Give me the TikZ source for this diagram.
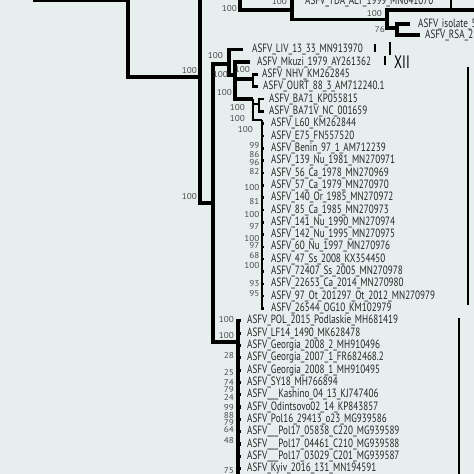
\documentclass[tikz,border=0pt]{standalone}
\usepackage{fontspec}
\setmainfont{PT Sans}
\newfontfamily\leaffont[FakeStretch=0.76]{PT Sans}
\newfontfamily\bootfont[FakeStretch=1.08]{PT Sans}
\newfontfamily\cladefont[FakeStretch=0.72]{PT Sans}
\definecolor{sfondo}{RGB}{231,238,238}
\tikzset{
  ramo/.style={line width=3.2pt},
  rametto/.style={line width=2.6pt},
  foglia/.style={anchor=base west, inner sep=0pt, text=black!85, font=\leaffont\fontsize{12}{12}\selectfont},
  supporto/.style={anchor=east, inner sep=0pt, text=black!70, font=\bootfont\fontsize{8.5}{8.5}\selectfont},
  barra/.style={line width=2.4pt},
}
\begin{document}
\begin{tikzpicture}[x=1pt, y=-1pt]
\useasboundingbox (0,0) rectangle (474,474);
\fill[sfondo] (0,0) rectangle (474,474);
\clip (0,0) rectangle (474,474);

% Nodi interni (punto di ingresso del ramo)
\coordinate (p0) at (35,-60);
\coordinate (n1) at (128,0.5);
\coordinate (n1su) at (150,-60);
\coordinate (n2) at (200,77);
\coordinate (n2su) at (215,-60);
\coordinate (n3) at (213,203);
\coordinate (n4) at (229,64);
\coordinate (n5) at (235,75);
\coordinate (n6) at (253,79);
\coordinate (n7) at (253,99);
\coordinate (n8) at (259,104);
\coordinate (n9) at (262,120);
\coordinate (n10) at (238,342);
\coordinate (m1) at (240,-40);
\coordinate (m2) at (292,10);
\coordinate (m2su) at (300,-40);
\coordinate (m3) at (387,19.5);
\coordinate (m3dx) at (480,10);
\coordinate (m4) at (397,28);

% Foglie in alto a destra
\node[foglia] (tda) at (305,4) {ASFV\_TDA\_ALT\_1999\_MN641070};
\node[foglia] (iso) at (418,27) {ASFV\_isolate\_5};
\node[foglia] (rsa) at (425,38) {ASFV\_RSA\_2};

% Foglie del genotipo I
\node[foglia] (liv) at (252,52.8) {ASFV\_LIV\_13\_33\_MN913970};
\node[foglia] (mku) at (257,65.1) {ASFV\_Mkuzi\_1979\_AY261362};
\node[foglia] (nhv) at (262,77.4) {ASFV\_NHV\_KM262845};
\node[foglia] (ourt) at (263,89.8) {ASFV\_OURT\_88\_3\_AM712240.1};
\node[foglia] (ba71) at (269,102.1) {ASFV\_BA71\_KP055815};
\node[foglia] (ba71v) at (269,114.4) {ASFV\_BA71V\_NC\_001659};
\node[foglia] (l60) at (271,126.7) {ASFV\_L60\_KM262844};
\node[foglia] (e75) at (271,139.0) {ASFV\_E75\_FN557520};
\node[foglia] (ben) at (271,151.4) {ASFV\_Benin\_97\_1\_AM712239};
\node[foglia] (nu139) at (271,163.7) {ASFV\_139\_Nu\_1981\_MN270971};
\node[foglia] (ca56) at (271,176.0) {ASFV\_56\_Ca\_1978\_MN270969};
\node[foglia] (ca57) at (271,188.3) {ASFV\_57\_Ca\_1979\_MN270970};
\node[foglia] (or140) at (271,200.6) {ASFV\_140\_Or\_1985\_MN270972};
\node[foglia] (ca85) at (271,213.0) {ASFV\_85\_Ca\_1985\_MN270973};
\node[foglia] (nu141) at (271,225.3) {ASFV\_141\_Nu\_1990\_MN270974};
\node[foglia] (nu142) at (271,237.6) {ASFV\_142\_Nu\_1995\_MN270975};
\node[foglia] (nu60) at (271,249.9) {ASFV\_60\_Nu\_1997\_MN270976};
\node[foglia] (ss47) at (271,262.2) {ASFV\_47\_Ss\_2008\_KX354450};
\node[foglia] (ss72) at (271,274.6) {ASFV\_72407\_Ss\_2005\_MN270978};
\node[foglia] (ca22) at (271,286.9) {ASFV\_22653\_Ca\_2014\_MN270980};
\node[foglia] (ot97) at (271,299.2) {ASFV\_97\_Ot\_201297\_Ot\_2012\_MN270979};
\node[foglia] (og10) at (271,311.5) {ASFV\_26544\_OG10\_KM102979};

% Foglie del genotipo II
\node[foglia] (pol15) at (247,323.8) {ASFV\_POL\_2015\_Podlaskie\_MH681419};
\node[foglia] (lf14) at (247,336.2) {ASFV\_LF14\_1490\_MK628478};
\node[foglia] (geo82) at (247,348.5) {ASFV\_Georgia\_2008\_2\_MH910496};
\node[foglia] (geo71) at (247,360.8) {ASFV\_Georgia\_2007\_1\_FR682468.2};
\node[foglia] (geo81) at (247,373.1) {ASFV\_Georgia\_2008\_1\_MH910495};
\node[foglia] (sy18) at (247,385.4) {ASFV\_SY18\_MH766894};
\node[foglia] (kas) at (247,397.8) {ASFV\_\_\_Kashino\_04\_13\_KJ747406};
\node[foglia] (odi) at (247,410.1) {ASFV\_Odintsovo02\_14\_KP843857};
\node[foglia] (pol16) at (247,422.4) {ASFV\_Pol16\_29413\_o23\_MG939586};
\node[foglia] (p05838) at (247,434.7) {ASFV\_\_\_Pol17\_05838\_C220\_MG939589};
\node[foglia] (p04461) at (247,447.0) {ASFV\_\_\_Pol17\_04461\_C210\_MG939588};
\node[foglia] (p03029) at (247,459.4) {ASFV\_\_\_Pol17\_03029\_C201\_MG939587};
\node[foglia] (kyiv) at (247,471.7) {ASFV\_Kyiv\_2016\_131\_MN194591};

% Rami principali
\draw[ramo] (p0) |- (n1);
\draw[ramo] (n1) |- (n1su);
\draw[ramo] (n1) |- (n2);
\draw[ramo] (n2) |- (n2su);
\draw[ramo] (n2) |- (n3);
\draw[ramo] (n3) |- (n4);
\draw[ramo] (n3) |- (n10);
\draw[ramo] (m1) |- (m2);
\draw[ramo] (m2) |- (m2su);
\draw[ramo] (m2) |- (m3);
\draw[ramo] (m3) |- (m3dx);
\draw[ramo] (m3) |- (m4);
\draw[ramo, shorten >=8pt] (m4) |- (iso.west);
\draw[ramo, shorten >=5pt] (m4) |- (rsa.west);

% Clade del genotipo I
\draw[ramo, shorten >=9pt] (n4) |- (liv.west);
\draw[ramo] (n4) |- (n5);
\draw[ramo, shorten >=7pt] (n5) |- (mku.west);
\draw[ramo] (n5) |- (n6);
\draw[ramo] (n5) |- (n7);
\draw[rametto, shorten >=4pt] (n6) |- (nhv.west);
\draw[rametto, shorten >=5pt] (n6) |- (ourt.west);
\draw[rametto] (n7) |- (n8);
\draw[rametto] (n7) |- (n9);
\draw[rametto, shorten >=5pt] (n8) |- (ba71.west);
\draw[rametto, shorten >=5pt] (n8) |- (ba71v.west);
\foreach \f in {l60,e75,ben,nu139,ca56,ca57,or140,ca85,nu141,nu142,nu60,ss47,ss72,ca22,ot97,og10}
  \draw[rametto, shorten >=7pt] (n9) |- (\f.west);

% Clade del genotipo II
\foreach \f in {pol15,lf14,geo82,geo71,geo81,sy18,kas,odi,pol16,p05838,p04461,p03029,kyiv}
  \draw[ramo, shorten >=6pt] (n10) |- (\f.west);
\draw[ramo] (n10) -- (238,480);

% Valori di bootstrap
\node[supporto] at (197,71) {100};
\node[supporto] at (197,197) {100};
\node[supporto] at (237,8.5) {100};
\node[supporto] at (287,2) {100};
\node[supporto] at (382,14) {100};
\node[supporto] at (385,30) {76};
\node[supporto] at (223,55.5) {100};
\node[supporto] at (228,74.5) {100};
\node[supporto] at (250,69.5) {100};
\node[supporto] at (232,92.5) {100};
\node[supporto] at (245,107.5) {100};
\node[supporto] at (245,118.5) {100};
\node[supporto] at (253,130) {100};
\foreach \v/\y in {99/146,86/155,96/163,82/172,100/188,81/202,100/215,97/226.5,100/238.5,97/245.5,68/255.5,100/266,93/283.5,95/293.5}
  \node[supporto] at (259.5,\y) {\v};
\foreach \v/\y in {100/319.5,100/336,28/355.5,25/372.5,74/382,79/389.5,24/397.5,99/407.5,88/416,79/423,64/430,48/441,75/471}
  \node[supporto] at (234,\y) {\v};

% Barre dei genotipi
\draw[barra] (375,44) -- (375,52);
\draw[barra] (390,42) -- (390,55);
\draw[barra] (385,56) -- (385,65);
\node[inner sep=0pt, anchor=base, font=\cladefont\fontsize{18}{18}\selectfont] (xii) at (402,68) {XII};
\draw[barra] (451,-5) -- (451,8);
\draw[barra] (468,67) -- (468,305);
\draw[barra] (459,318) -- (459,480);

\end{tikzpicture}
\end{document}
